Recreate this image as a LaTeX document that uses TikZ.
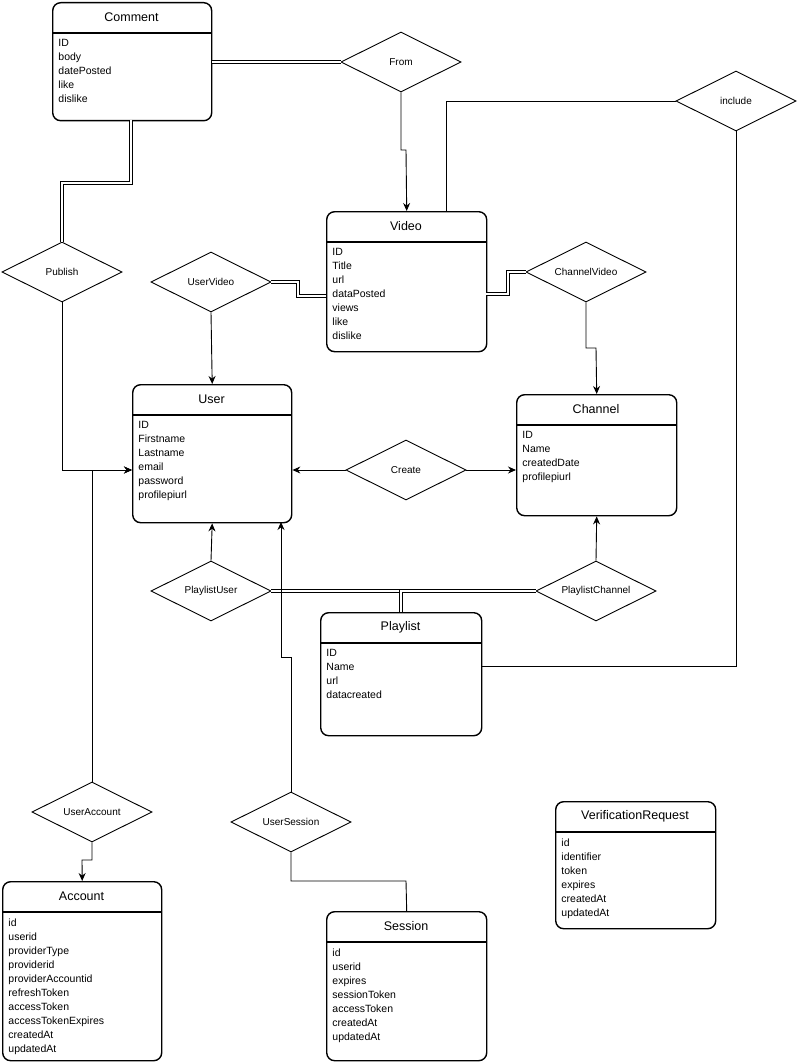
\documentclass[tikz,border=0pt]{standalone}
\usepackage{fontspec}
\setmainfont{Liberation Sans}
\usetikzlibrary{shapes.geometric,arrows.meta}
\begin{document}
\begin{tikzpicture}[x=1pt,y=-1pt,line width=0.9pt,
  box/.style={draw,line width=1.4pt,rounded corners=8pt,inner sep=0pt},
  rel/.style={draw,diamond,aspect=2,minimum width=120pt,minimum height=60pt,inner sep=0pt,font=\fontsize{10}{12}\selectfont},
  ttl/.style={font=\fontsize{12.5}{14}\selectfont},
  fld/.style={anchor=north west,align=left,inner sep=0pt,font=\fontsize{10.5}{14}\selectfont},
  arr/.style={-{Stealth[length=8pt,width=7pt]}},
  dbl/.style={draw=black,double=white,line width=0.9pt,double distance=1.8pt}]
\useasboundingbox (0,0) rectangle (797,1062);
\newcommand\ent[8]{%
  \node[box,anchor=north west,minimum width={#4-#2},minimum height={#5-#3}] (#1) at (#2,#3) {};
  \draw[line width=1.2pt] (#2,#6) -- (#4,#6);
  \node[ttl] (#1t) at ({(#2+#4)/2},{(#3+#6)/2}) {#7};
  \node[fld] (#1f) at ({#2+6},{#6+6}) {#8};}
\ent{comment}{52}{2}{211}{120}{33}{Comment}{ID\\body\\datePosted\\like\\dislike}
\ent{video}{326}{211}{486}{351}{242}{Video}{ID\\Title\\url\\dataPosted\\views\\like\\dislike}
\ent{user}{132}{384}{291}{522}{415}{User}{ID\\Firstname\\Lastname\\email\\password\\profilepiurl}
\ent{channel}{516}{394}{676}{515}{425}{Channel}{ID\\Name\\createdDate\\profilepiurl}
\ent{playlist}{320}{612}{481}{735}{643}{Playlist}{ID\\Name\\url\\datacreated}
\ent{account}{2}{881}{161}{1060}{912}{Account}{id\\userid\\providerType\\providerid\\providerAccountid\\refreshToken\\accessToken\\accessTokenExpires\\createdAt\\updatedAt}
\ent{session}{326}{911}{486}{1060}{942}{Session}{id\\userid\\expires\\sessionToken\\accessToken\\createdAt\\updatedAt}
\ent{verif}{555}{801}{715}{928}{832}{VerificationRequest}{id\\identifier\\token\\expires\\createdAt\\updatedAt}
\node[rel] (from) at (401,62) {From};
\node[rel] (include) at (736,101) {include};
\node[rel] (publish) at (62,272) {Publish};
\node[rel] (uservideo) at (211,282) {UserVideo};
\node[rel] (chvideo) at (586,272) {ChannelVideo};
\node[rel] (create) at (406,470) {Create};
\node[rel] (pluser) at (211,591) {PlaylistUser};
\node[rel] (plch) at (596,591) {PlaylistChannel};
\node[rel] (useracc) at (92,812) {UserAccount};
\node[rel] (usersess) at (291,822) {UserSession};
% connectors
\draw[dbl] (comment.east |- from.west) -- (from.west);
\draw[arr] (from.south) -- (401,150) -- (406,150) -- (video.north);
\draw ([xshift=40pt]video.north) |- (include.west);
\draw (include.south) |- (playlist.east |- 0,666);
\draw[dbl] (131,120) -- (131,183) -- (62,183) -- (publish.north);
\draw[arr] (publish.south) |- (user.west |- create.west);
\draw[dbl] (uservideo.east) -- (298,282) -- (298,296) -- (326,296);
\draw[arr] (uservideo.south) -- (user.north);
\draw[dbl] (486,294) -- (508,294) -- (508,272) -- (chvideo.west);
\draw[arr] (chvideo.south) -- (586,348) -- (596,348) -- (channel.north);
\draw[arr] (create.west) -- (user.east |- create.west);
\draw[arr] (create.east) -- (channel.west |- create.east);
\draw[arr] (pluser.north) -- (user.south);
\draw[arr] (plch.north) -- (channel.south);
\draw[dbl] (pluser.east) -| (playlist.north);
\draw[dbl] (plch.west) -| (playlist.north);
\draw[arr] (useracc.north) |- (user.west |- create.west);
\draw[arr] (useracc.south) -- (92,860) -- (82,860) -- (account.north);
\draw[arr] (usersess.north) -- (291,657) -- (281,657) -- (281,522);
\draw (usersess.south) -- (291,881) -- (406,881) -- (session.north);
\end{tikzpicture}
\end{document}
